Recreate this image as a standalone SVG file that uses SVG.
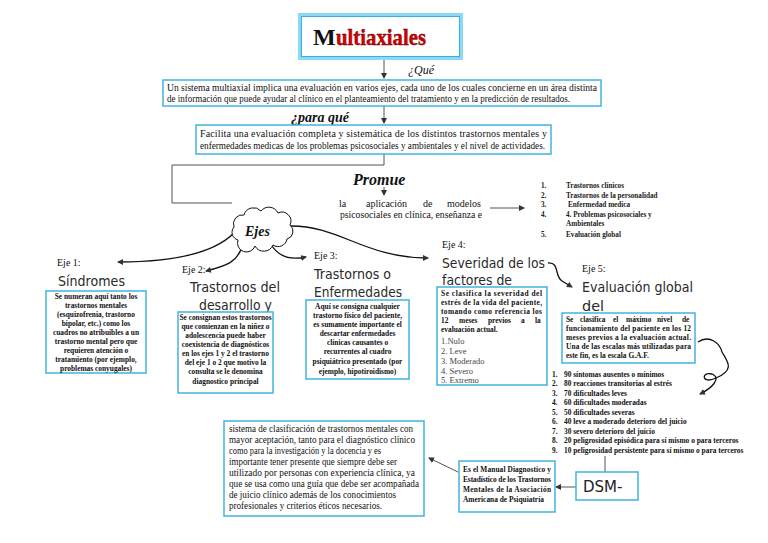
<svg xmlns="http://www.w3.org/2000/svg" width="768" height="543" viewBox="0 0 768 543">
<style>
.bx{fill:#fff;stroke:#41b4dc;stroke-width:1.5}
.t{font-family:"Liberation Serif",serif;font-size:10px;fill:#111}
.tb{font-family:"Liberation Serif",serif;font-size:7.4px;font-weight:bold;fill:#111}
.tl{font-family:"Liberation Serif",serif;font-size:7.2px;font-weight:bold;fill:#222}
.tg{font-family:"Liberation Serif",serif;font-size:8.5px;fill:#444}
.eje{font-family:"Liberation Serif",serif;font-size:10px;fill:#111}
.h{font-family:"DejaVu Sans",sans-serif;font-size:13.5px;fill:#2a2a2a}
.q{font-family:"Liberation Serif",serif;font-style:italic;font-weight:bold;fill:#111}
.qn{font-family:"Liberation Serif",serif;font-style:italic;fill:#111}
.ttl{font-family:"Liberation Serif",serif;font-size:24px;font-weight:bold}
.ln{fill:none;stroke:#555;stroke-width:1}
.cv{fill:none;stroke:#111;stroke-width:1.3}
</style>
<defs>
<marker id="ah" markerWidth="6" markerHeight="6" refX="5" refY="3" orient="auto" markerUnits="userSpaceOnUse"><path d="M0,0 L6,3 L0,6 z" fill="#333"/></marker>
<clipPath id="c1"><rect x="46" y="291" width="100" height="82"/></clipPath>
<clipPath id="c2"><rect x="178" y="311" width="95" height="82"/></clipPath>
<clipPath id="c3"><rect x="306" y="299" width="103" height="80"/></clipPath>
<clipPath id="c4"><rect x="437" y="286" width="110" height="99"/></clipPath>
</defs>

<g id="connectors">
<path class="ln" d="M384,58 V78" marker-end="url(#ah)"/>
<path class="ln" d="M384,106 V123" marker-end="url(#ah)"/>
<path class="ln" d="M384,154 V165 H172 V203 H232"/>
<path class="ln" d="M384,187 V195" marker-end="url(#ah)"/>
<path class="ln" d="M490,208 H524" marker-end="url(#ah)"/>
<path class="cv" d="M234,233 C215,252 175,262 118,262" marker-end="url(#ah)"/>
<path class="cv" d="M242,246 C238,262 226,266 206,271" marker-end="url(#ah)"/>
<path class="cv" d="M272,246 C280,258 292,260 306,257" marker-end="url(#ah)"/>
<path class="cv" d="M291,226 C340,226 365,258 428,258" marker-end="url(#ah)"/>
<path class="cv" d="M548,263 C560,262 554,276 562,281 L572,287" marker-end="url(#ah)"/>
<path class="cv" d="M698,342 C710,334 720,344 722,352 C728,362 735,370 716,378 C701,385 701,371 712,374 C722,378 712,388 700,394" marker-end="url(#ah)"/>
<path class="ln" d="M605,456 V472"/>
<path class="ln" d="M576,487 H556" marker-end="url(#ah)"/>
<path class="ln" d="M458,472 L429,458" marker-end="url(#ah)"/>
</g>

<g id="title">
<rect x="300" y="15" width="161" height="43" fill="#fff" stroke="#8ad9f5" stroke-width="4"/>
<rect x="301.5" y="16.5" width="158" height="40" fill="none" stroke="#3aaee0" stroke-width="1"/>
<text class="ttl" x="313" y="45" fill="#111">M</text>
<text class="ttl" x="336" y="45" fill="#d40000" stroke="#5a0000" stroke-width="0.4" textLength="90" lengthAdjust="spacingAndGlyphs">ultiaxiales</text>
</g>

<g id="que">
<text class="qn" x="408" y="74" font-size="12">¿Qué</text>
<rect class="bx" x="163" y="80" width="438" height="26"/>
<text class="t" x="167" y="91" textLength="430" lengthAdjust="spacingAndGlyphs">Un sistema multiaxial implica una evaluación en varios ejes, cada uno de los cuales concierne en un área distinta</text>
<text class="t" x="167" y="102" textLength="403" lengthAdjust="spacingAndGlyphs">de información que puede ayudar al clínico en el planteamiento del tratamiento y en la predicción de resultados.</text>
</g>

<g id="paraque">
<text class="q" x="291" y="122" font-size="14">¿para qué</text>
<rect class="bx" x="196" y="125" width="355" height="29"/>
<text class="t" x="200" y="137" textLength="347" lengthAdjust="spacing">Facilita una evaluación completa y sistemática de los distintos trastornos mentales y</text>
<text class="t" x="200" y="149" textLength="345" lengthAdjust="spacingAndGlyphs">enfermedades medicas de los problemas psicosociales y ambientales y el nivel de actividades.</text>
</g>

<g id="promue">
<text class="q" x="353" y="185" font-size="16">Promue</text>
<text class="t" y="207"><tspan x="339">la</tspan><tspan x="366">aplicación</tspan><tspan x="423">de</tspan><tspan x="447">modelos</tspan></text>
<text class="t" x="340" y="218" textLength="142" lengthAdjust="spacingAndGlyphs">psicosociales en clínica, enseñanza e</text>
</g>

<g id="ejes-list">
<text class="tl" x="541" y="188">1.</text><text class="tl" x="566" y="188">Trastornos clínicos</text>
<text class="tl" x="541" y="198">2.</text><text class="tl" x="566" y="198">Trastornos de la personalidad</text>
<text class="tl" x="541" y="207">3.</text><text class="tl" x="568" y="207">Enfermedad medica</text>
<text class="tl" x="541" y="217">4.</text><text class="tl" x="566" y="217">4.  Problemas psicosociales y</text>
<text class="tl" x="566" y="226">Ambientales</text>
<text class="tl" x="541" y="237">5.</text><text class="tl" x="566" y="237">Evaluación global</text>
</g>

<g id="ejes">
<path d="M238,240 a8,8 0 0 1 -4,-13 a9,9 0 0 1 10,-12 a10,10 0 0 1 17,-4 a10,10 0 0 1 17,2 a9,9 0 0 1 12,12 a8,8 0 0 1 -3,14 a9,9 0 0 1 -14,6 a10,10 0 0 1 -18,1 a9,9 0 0 1 -17,-6 z" fill="#fff" stroke="#111" stroke-width="1"/>
<text class="q" x="245" y="236" font-size="14">Ejes</text>
</g>

<g id="eje1">
<text class="eje" x="57" y="266">Eje 1:</text>
<text class="h" x="58" y="286" textLength="67" lengthAdjust="spacingAndGlyphs">Síndromes</text>
<rect class="bx" x="46" y="291" width="100" height="82"/>
<g clip-path="url(#c1)" text-anchor="middle">
<text class="tb" x="96" y="299">Se numeran aquí tanto los</text>
<text class="tb" x="96" y="308">trastornos mentales</text>
<text class="tb" x="96" y="317">(esquizofrenia, trastorno</text>
<text class="tb" x="96" y="326">bipolar, etc.) como los</text>
<text class="tb" x="96" y="335">cuadros no atribuibles a un</text>
<text class="tb" x="96" y="344">trastorno mental pero que</text>
<text class="tb" x="96" y="353">requieren atención o</text>
<text class="tb" x="96" y="362">tratamiento (por ejemplo,</text>
<text class="tb" x="96" y="371">problemas conyugales)</text>
</g>
</g>

<g id="eje2">
<text class="eje" x="182" y="273">Eje 2:</text>
<text class="h" x="190" y="292" textLength="90" lengthAdjust="spacingAndGlyphs">Trastornos del</text>
<text class="h" x="199" y="310" textLength="73" lengthAdjust="spacingAndGlyphs">desarrollo y</text>
<rect class="bx" x="178" y="312" width="95" height="81"/>
<g clip-path="url(#c2)" text-anchor="middle">
<text class="tb" x="225.5" y="320">Se consignan estos trastornos</text>
<text class="tb" x="225.5" y="329">que comienzan en la niñez o</text>
<text class="tb" x="225.5" y="338">adolescencia puede haber</text>
<text class="tb" x="225.5" y="347">coexistencia de diagnósticos</text>
<text class="tb" x="225.5" y="356">en los ejes 1 y 2 el trastorno</text>
<text class="tb" x="225.5" y="365">del eje 1 o 2 que motivo la</text>
<text class="tb" x="225.5" y="374">consulta se le denomina</text>
<text class="tb" x="225.5" y="384">diagnostico principal</text>
</g>
</g>

<g id="eje3">
<text class="eje" x="314" y="259">Eje 3:</text>
<text class="h" x="314" y="279" textLength="77" lengthAdjust="spacingAndGlyphs">Trastornos o</text>
<text class="h" x="314" y="297" textLength="88" lengthAdjust="spacingAndGlyphs">Enfermedades</text>
<rect class="bx" x="306" y="300" width="103" height="79"/>
<g clip-path="url(#c3)" text-anchor="middle">
<text class="tb" x="357.5" y="309">Aquí se consigna cualquier</text>
<text class="tb" x="357.5" y="318">trastorno físico del paciente,</text>
<text class="tb" x="357.5" y="327">es sumamente importante el</text>
<text class="tb" x="357.5" y="336">descartar enfermedades</text>
<text class="tb" x="357.5" y="345">clínicas causantes o</text>
<text class="tb" x="357.5" y="354">recurrentes al cuadro</text>
<text class="tb" x="357.5" y="364">psiquiátrico presentado (por</text>
<text class="tb" x="357.5" y="374">ejemplo, hipotiroidismo)</text>
</g>
</g>

<g id="eje4">
<text class="eje" x="442" y="248">Eje 4:</text>
<text class="h" x="442" y="268" textLength="103" lengthAdjust="spacingAndGlyphs">Severidad de los</text>
<text class="h" x="442" y="285" textLength="70" lengthAdjust="spacingAndGlyphs">factores de</text>
<rect class="bx" x="437" y="287" width="110" height="98"/>
<g clip-path="url(#c4)">
<text class="tb" x="441" y="296" textLength="101" lengthAdjust="spacing">Se clasifica la severidad del</text>
<text class="tb" x="441" y="305" textLength="101" lengthAdjust="spacing">estrés de la vida del paciente,</text>
<text class="tb" x="441" y="314" textLength="101" lengthAdjust="spacing">tomando como referencia los</text>
<text class="tb" y="323"><tspan x="441">12</tspan><tspan x="459">meses</tspan><tspan x="488">previos</tspan><tspan x="521">a</tspan><tspan x="535">la</tspan></text>
<text class="tb" x="441" y="332">evaluación actual.</text>
<text class="tg" x="441" y="344">1.Nulo</text>
<text class="tg" x="441" y="354">2. Leve</text>
<text class="tg" x="441" y="364">3. Moderado</text>
<text class="tg" x="441" y="374">4. Severo</text>
<text class="tg" x="441" y="383">5. Extremo</text>
<text class="tg" x="441" y="392">6. Catastrófico</text>
</g>
</g>

<g id="eje5">
<text class="eje" x="582" y="272">Eje 5:</text>
<text class="h" x="582" y="292" textLength="111" lengthAdjust="spacingAndGlyphs">Evaluación global</text>
<text class="h" x="582" y="311" textLength="22" lengthAdjust="spacingAndGlyphs">del</text>
<rect class="bx" x="562" y="313" width="133" height="50"/>
<text class="tb" y="322"><tspan x="566">Se</tspan><tspan x="580">clasifica</tspan><tspan x="613">el</tspan><tspan x="626">máximo</tspan><tspan x="657">nivel</tspan><tspan x="682">de</tspan></text>
<text class="tb" x="566" y="331" textLength="125" lengthAdjust="spacing">funcionamiento del paciente en los 12</text>
<text class="tb" x="566" y="340" textLength="125" lengthAdjust="spacing">meses previos a la evaluación actual.</text>
<text class="tb" x="566" y="349" textLength="125" lengthAdjust="spacing">Una de las escalas más utilizadas para</text>
<text class="tb" x="566" y="358">este fin, es la escala G.A.F.</text>
</g>

<g id="gaf-list">
<text class="tb" x="552" y="377">1.</text><text class="tb" x="564" y="377">90 síntomas ausentes o mínimos</text>
<text class="tb" x="552" y="386">2.</text><text class="tb" x="564" y="386">80 reacciones transitorias al estrés</text>
<text class="tb" x="552" y="396">3.</text><text class="tb" x="564" y="396">70 dificultades leves</text>
<text class="tb" x="552" y="405">4.</text><text class="tb" x="564" y="405">60 dificultades moderadas</text>
<text class="tb" x="552" y="415">5.</text><text class="tb" x="564" y="415">50 dificultades severas</text>
<text class="tb" x="552" y="424">6.</text><text class="tb" x="564" y="424">40 leve a moderado deterioro del juicio</text>
<text class="tb" x="552" y="434">7.</text><text class="tb" x="564" y="434">30 severo deterioro del juicio</text>
<text class="tb" x="552" y="443">8.</text><text class="tb" x="564" y="443">20 peligrosidad episódica para sí mismo o para terceros</text>
<text class="tb" x="552" y="453">9.</text><text class="tb" x="564" y="453">10 peligrosidad persistente para sí mismo o para terceros</text>
</g>

<g id="dsm">
<rect class="bx" x="576" y="472" width="62" height="28"/>
<text x="583" y="492" font-family="DejaVu Sans,sans-serif" font-size="15" fill="#222">DSM-</text>
</g>

<g id="manual">
<rect class="bx" x="459" y="461" width="96" height="51"/>
<text class="tb" x="463" y="472" textLength="88" lengthAdjust="spacing">Es el Manual Diagnostico y</text>
<text class="tb" x="463" y="482" textLength="88" lengthAdjust="spacing">Estadístico de los Trastornos</text>
<text class="tb" x="463" y="492" textLength="88" lengthAdjust="spacing">Mentales de la Asociación</text>
<text class="tb" x="463" y="502">Americana de Psiquiatría</text>
</g>

<g id="sistema">
<rect class="bx" x="224" y="421" width="200" height="95"/>
<text class="t" x="229" y="432" textLength="184" lengthAdjust="spacingAndGlyphs">sistema de clasificación de trastornos mentales con</text>
<text class="t" x="229" y="443" textLength="186" lengthAdjust="spacingAndGlyphs">mayor aceptación, tanto para el diagnóstico clínico</text>
<text class="t" x="229" y="454" textLength="152" lengthAdjust="spacingAndGlyphs">como para la investigación y la docencia y es</text>
<text class="t" x="229" y="465" textLength="168" lengthAdjust="spacingAndGlyphs">importante tener presente que siempre debe ser</text>
<text class="t" x="229" y="476" textLength="186" lengthAdjust="spacingAndGlyphs">utilizado por personas con experiencia clínica, ya</text>
<text class="t" x="229" y="487" textLength="190" lengthAdjust="spacingAndGlyphs">que se usa como una guía que debe ser acompañada</text>
<text class="t" x="229" y="498" textLength="167" lengthAdjust="spacingAndGlyphs">de juicio clínico además de los conocimientos</text>
<text class="t" x="229" y="509" textLength="153" lengthAdjust="spacingAndGlyphs">profesionales y criterios éticos necesarios.</text>
</g>
</svg>
